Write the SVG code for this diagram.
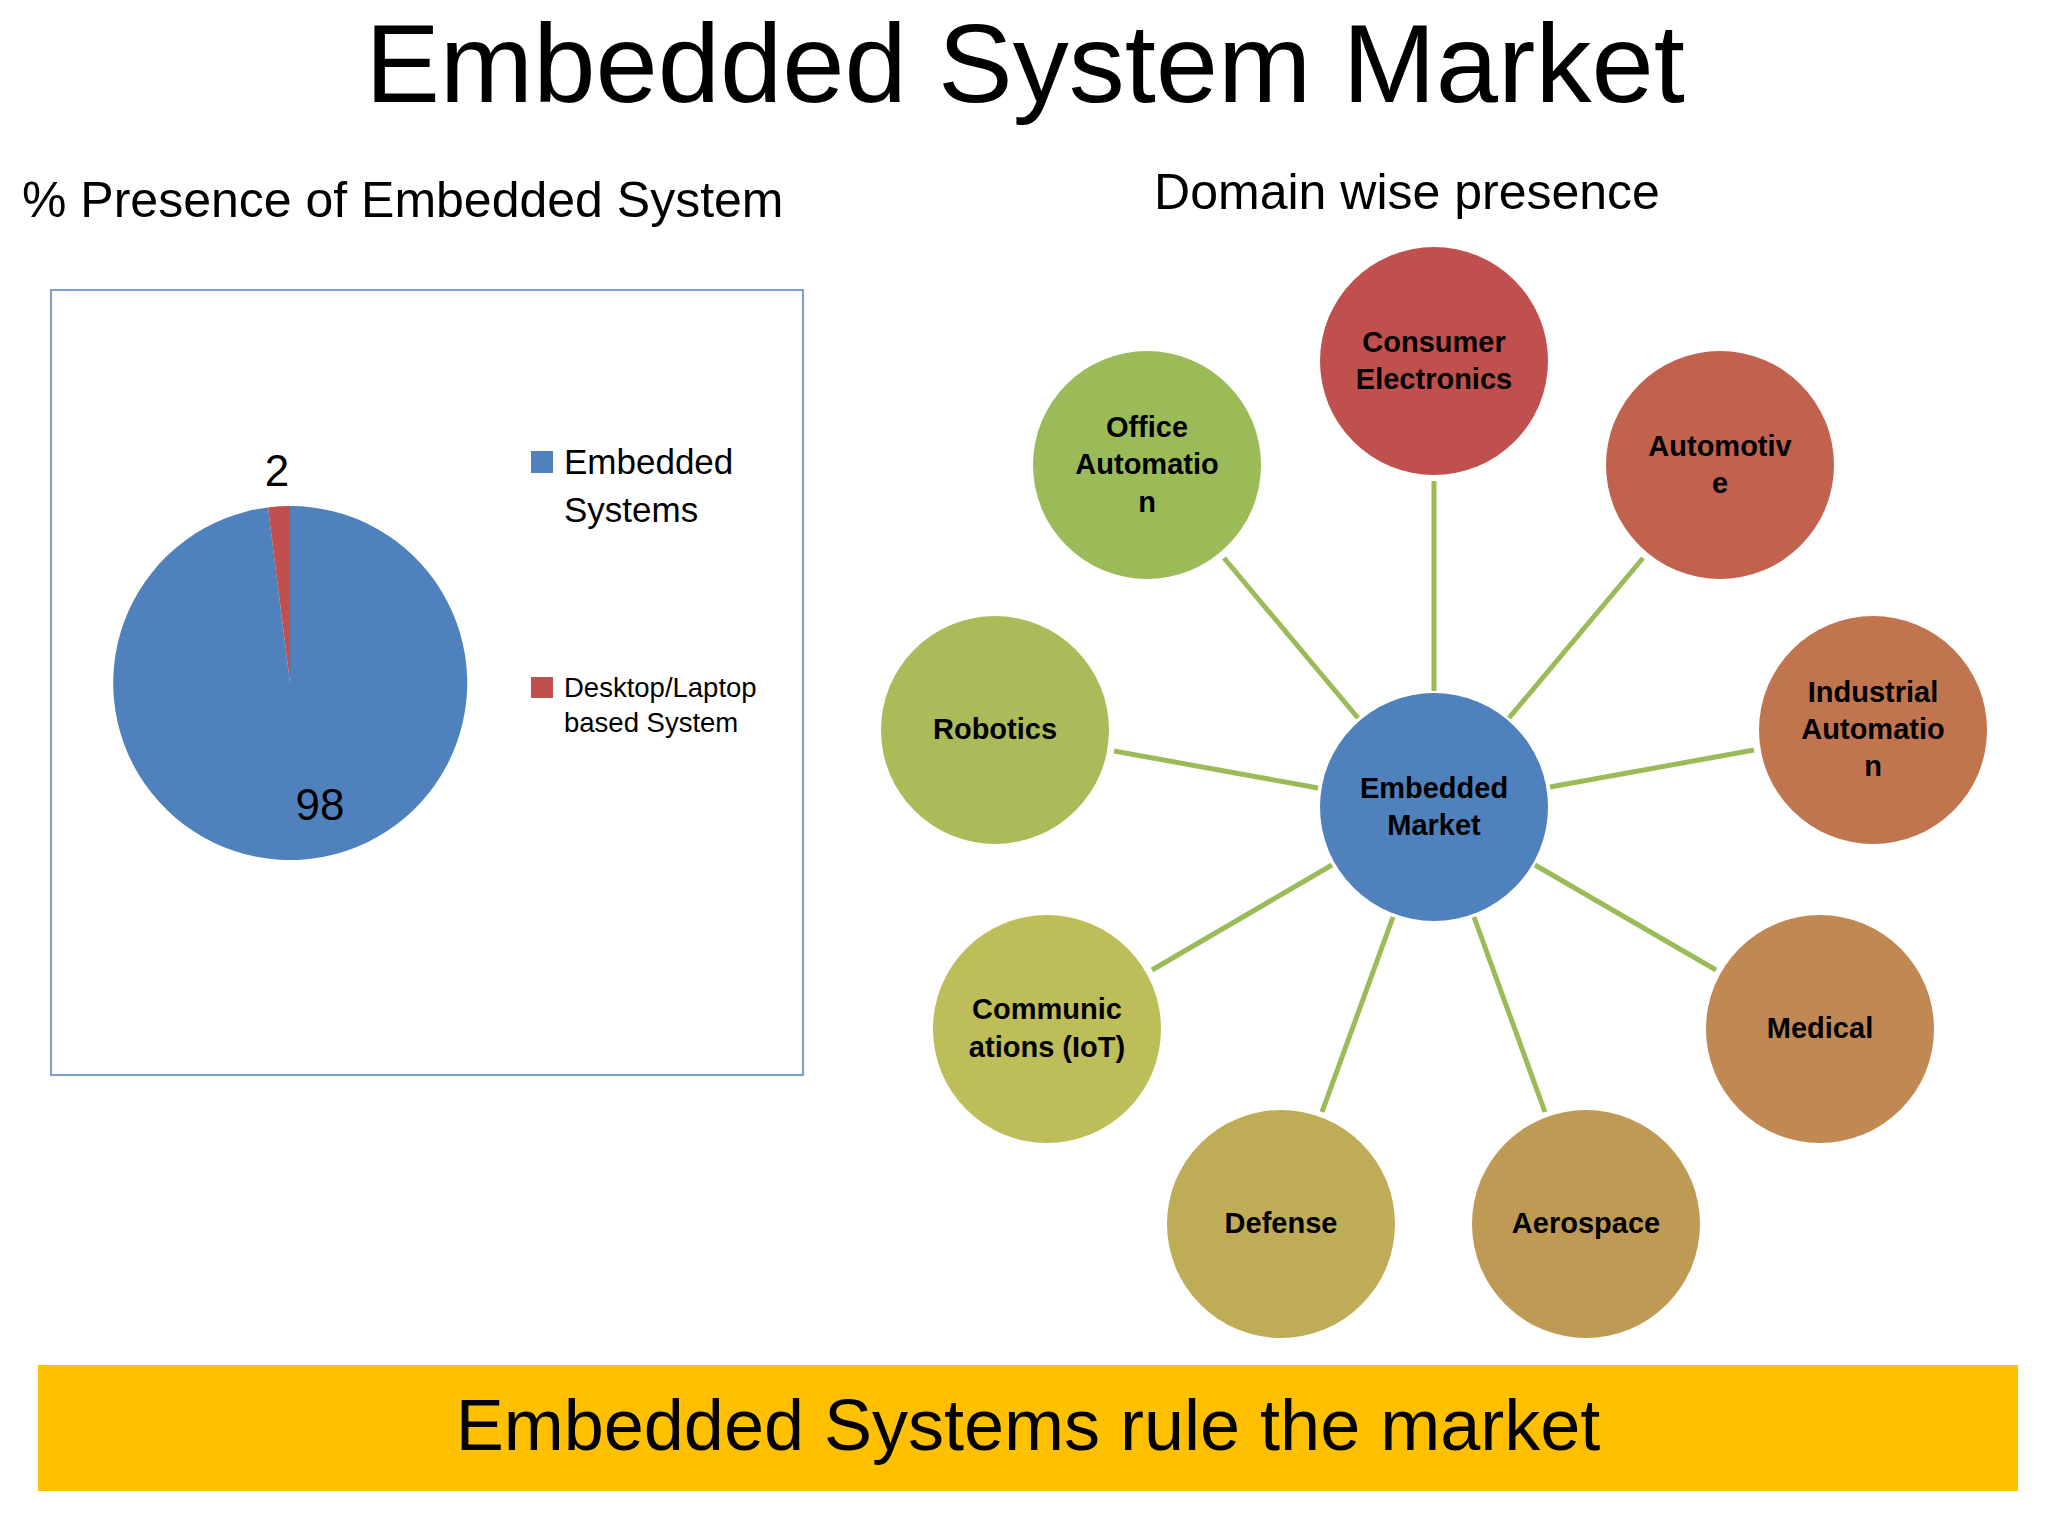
<svg xmlns="http://www.w3.org/2000/svg" width="2048" height="1536" viewBox="0 0 2048 1536">
<style>
.t{font-family:"Liberation Sans",Arial,sans-serif;fill:#000}
.lbl{font-family:"Liberation Sans",Arial,sans-serif;font-weight:bold;font-size:29px;fill:#000;text-anchor:middle}
.conn line{stroke:#9BBB59;stroke-width:5}
</style>
<rect width="2048" height="1536" fill="#FFFFFF"/>
<text class="t" x="1025" y="102" font-size="112" text-anchor="middle">Embedded System Market</text>
<text class="t" x="22" y="217" font-size="50">% Presence of Embedded System</text>
<text class="t" x="1407" y="209" font-size="50" text-anchor="middle">Domain wise presence</text>

<g id="chart">
<rect x="51" y="290" width="752" height="785" fill="#FFFFFF" stroke="#4F81BD" stroke-width="1.5"/>
<path d="M290,683 L290,506 A177,177 0 1 1 268,507.4 Z" fill="#4F81BD"/>
<path d="M290,683 L268,507.4 A177,177 0 0 1 290,506 Z" fill="#C0504D"/>
<text class="t" x="277" y="486" font-size="44" text-anchor="middle">2</text>
<text class="t" x="320" y="820" font-size="44" text-anchor="middle">98</text>
<rect x="531" y="451" width="22" height="22" fill="#4F81BD"/>
<text class="t" x="564" y="474" font-size="35">Embedded</text>
<text class="t" x="564" y="522" font-size="35">Systems</text>
<rect x="531" y="677" width="22" height="21" fill="#C0504D"/>
<text class="t" x="564" y="697" font-size="27.5">Desktop/Laptop</text>
<text class="t" x="564" y="732" font-size="27.5">based System</text>
</g>

<g id="connectors" class="conn">
<line x1="1434" y1="481" x2="1434" y2="691"/>
<line x1="1224" y1="558" x2="1358" y2="718"/>
<line x1="1643" y1="558" x2="1509" y2="718"/>
<line x1="1114" y1="751" x2="1318" y2="788"/>
<line x1="1754" y1="750" x2="1550" y2="787"/>
<line x1="1332" y1="865" x2="1152" y2="970"/>
<line x1="1535" y1="865" x2="1716" y2="970"/>
<line x1="1393" y1="917" x2="1322" y2="1112"/>
<line x1="1474" y1="917" x2="1545" y2="1112"/>
</g>

<g id="node-consumer">
<circle cx="1434" cy="361" r="114" fill="#C0504D"/>
<text class="lbl" x="1434" y="352">Consumer</text>
<text class="lbl" x="1434" y="389">Electronics</text>
</g>
<g id="node-office">
<circle cx="1147" cy="465" r="114" fill="#9BBB59"/>
<text class="lbl" x="1147" y="437">Office</text>
<text class="lbl" x="1147" y="474">Automatio</text>
<text class="lbl" x="1147" y="512">n</text>
</g>
<g id="node-automotive">
<circle cx="1720" cy="465" r="114" fill="#C0624D"/>
<text class="lbl" x="1720" y="456">Automotiv</text>
<text class="lbl" x="1720" y="493">e</text>
</g>
<g id="node-robotics">
<circle cx="995" cy="730" r="114" fill="#ACBB5A"/>
<text class="lbl" x="995" y="739">Robotics</text>
</g>
<g id="node-industrial">
<circle cx="1873" cy="730" r="114" fill="#C0754F"/>
<text class="lbl" x="1873" y="702">Industrial</text>
<text class="lbl" x="1873" y="739">Automatio</text>
<text class="lbl" x="1873" y="776">n</text>
</g>
<g id="node-center">
<circle cx="1434" cy="807" r="114" fill="#4F81BD"/>
<text class="lbl" x="1434" y="798">Embedded</text>
<text class="lbl" x="1434" y="835">Market</text>
</g>
<g id="node-communications">
<circle cx="1047" cy="1029" r="114" fill="#BDBD59"/>
<text class="lbl" x="1047" y="1019">Communic</text>
<text class="lbl" x="1047" y="1057">ations (IoT)</text>
</g>
<g id="node-medical">
<circle cx="1820" cy="1029" r="114" fill="#C08852"/>
<text class="lbl" x="1820" y="1038">Medical</text>
</g>
<g id="node-defense">
<circle cx="1281" cy="1224" r="114" fill="#BFAC57"/>
<text class="lbl" x="1281" y="1233">Defense</text>
</g>
<g id="node-aerospace">
<circle cx="1586" cy="1224" r="114" fill="#BF9A55"/>
<text class="lbl" x="1586" y="1233">Aerospace</text>
</g>

<rect x="38" y="1365" width="1980" height="126" fill="#FFC000"/>
<text class="t" x="1028" y="1450" font-size="72" text-anchor="middle">Embedded Systems rule the market</text>
</svg>
